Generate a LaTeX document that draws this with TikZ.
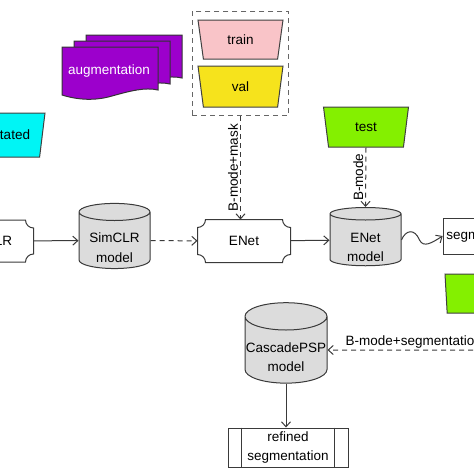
\documentclass[tikz,border=0pt]{standalone}
\usepackage{fontspec}
\setmainfont{Liberation Sans}
\usepackage{tikz}
\usetikzlibrary{calc}
\usetikzlibrary{positioning}
\usetikzlibrary{shapes.geometric}
\usetikzlibrary{fit}
\usetikzlibrary{arrows.meta}
\definecolor{lineg}{HTML}{3A3A3A}
\definecolor{cylfill}{HTML}{DCDCDC}
\definecolor{augpurple}{HTML}{9C00CC}
\definecolor{traincol}{HTML}{F9C4C8}
\definecolor{valcol}{HTML}{F6E31C}
\definecolor{testcol}{HTML}{84F000}
\definecolor{annotcol}{HTML}{00F5F5}
\tikzset{every node/.style={font=\fontsize{13.5}{19.5}\selectfont, text=black}}
\tikzstyle{plaquenode} = [minimum width=92, minimum height=41, align=center]
\tikzstyle{dbnode} = [draw=lineg, fill=cylfill, cylinder, shape border rotate=90, aspect=0.34, inner sep=0]
\tikzstyle{datanode} = [draw=black!75, trapezium, trapezium left angle=72, trapezium right angle=72, shape border rotate=180, trapezium stretches body, minimum height=40, minimum width=85]
\tikzstyle{procnode} = [draw=lineg, rectangle, minimum width=120, minimum height=39, align=center]
\tikzstyle{flow} = [draw=lineg, -{Straight Barb[length=5pt,width=9pt]}]
\tikzstyle{dflow} = [flow, dash pattern=on 5pt off 4pt]
\tikzstyle{augpage} = [draw=black!80, fill=augpurple]
\newcommand{\dbtxt}[2]{\raisebox{-8pt}[\height][\depth]{\begin{tabular}{@{}c@{}}#1\\#2\end{tabular}}}
\newcommand{\plaque}[1]{%
  \draw[lineg] ([xshift=8pt]#1.north west) -- ([xshift=-8pt]#1.north east)
    arc[start angle=180, end angle=270, radius=8pt]
    -- ([yshift=8pt]#1.south east)
    arc[start angle=90, end angle=180, radius=8pt]
    -- ([xshift=8pt]#1.south west)
    arc[start angle=0, end angle=90, radius=8pt]
    -- ([yshift=-8pt]#1.north west)
    arc[start angle=270, end angle=360, radius=8pt] -- cycle;}
\newcommand{\augsheet}[2]{%
  \draw[augpage, shift={(#1,#2)}] (62,-47) -- (158,-47) -- (158,-90)
    .. controls (145,-87) and (130,-91) .. (112,-96)
    .. controls (95,-101) and (78,-100) .. (62,-95) -- cycle;}

\begin{document}
\begin{tikzpicture}[x=1pt, y=1pt, line width=1pt]
    \useasboundingbox (0,0) rectangle (474,-474);
    \clip (0,0) rectangle (474,-474);

    \node[plaquenode, minimum height=42] (fine_enet) at (244,-241) {ENet};
    \plaque{fine_enet}
    \node[plaquenode] (pre_simclr) at ($(fine_enet)+(-257,0)$) {SimCLR};
    \plaque{pre_simclr}
    \node[dbnode, minimum width=71, minimum height=55] (pre_simclr_model) at ($(fine_enet)+(-129.5,0.5)$) {\dbtxt{SimCLR}{model}};
    \node[datanode, fill=annotcol, minimum height=44, minimum width=90] (annot) at ($(fine_enet)+(-244,106)$) {annotated};

    \augsheet{24}{12}
    \augsheet{12}{6}
    \augsheet{0}{0}
    \node[text=white] (aug) at (109,-71) {augmentation};

    \node[datanode, fill=traincol, minimum height=39] (data_train) at ($(fine_enet)+(-3.5,201.5)$) {train};
    \node[datanode, fill=valcol, minimum height=41] (data_val) at ($(data_train)+(0,-47)$) {val};
    \node[draw=black!60, dash pattern=on 5pt off 4pt, fit=(data_train)(data_val), inner sep=8] (data_box) {};

    \node[dbnode, minimum width=71, minimum height=54] (fine_enet_model) at ($(fine_enet)+(121.5,1)$) {\dbtxt{ENet}{model}};
    \node[datanode, fill=testcol] (test_in) at ($(fine_enet_model)+(0.5,113)$) {test};
    \node[draw=lineg, minimum width=86, minimum height=36] (seg_out) at ($(fine_enet_model)+(121.5,4)$) {segmentation};
    \node[datanode, fill=testcol, minimum height=39] (test_in_b) at ($(seg_out)+(0.5,-57.5)$) {};

    \node[dbnode, minimum width=82, minimum height=54] (ref_cascade) at ($(fine_enet_model)+(-79.5,-110)$) {\dbtxt{CascadePSP}{model}};
    \node[procnode] (ref_out) at ($(ref_cascade)+(2,-97.5)$) {refined\\segmentation};
    \draw[lineg] ([xshift=14pt]ref_out.north west) -- ([xshift=14pt]ref_out.south west);
    \draw[lineg] ([xshift=-14pt]ref_out.north east) -- ([xshift=-14pt]ref_out.south east);
    \coordinate (seg_src) at ($(ref_cascade)+(214,0)$);

    \draw[flow] (pre_simclr) -- (pre_simclr_model);
    \draw[dflow] (pre_simclr_model) -- (fine_enet);
    \draw[flow] (fine_enet) -- (fine_enet_model);
    \draw[dflow] (data_box.south) -- node[midway, rotate=90, above, inner sep=2pt] {B-mode+mask} (data_box.south |- fine_enet.north);
    \draw[dflow] (test_in.south) -- node[midway, rotate=90, above, inner sep=2pt] {B-mode} (fine_enet_model.north);
    \draw[flow] (fine_enet_model.east) .. controls +(4,10) and +(-5,12) .. ($(fine_enet_model.east)+(18,0)$)
        .. controls +(4,-8) and +(-11,-7) .. (seg_out.west);
    \draw[dflow] (seg_src) -- node[midway, above, inner sep=1pt] {B-mode+segmentation} (ref_cascade.east);
    \draw[flow] (ref_cascade.south) -- (ref_cascade.south |- ref_out.north);
\end{tikzpicture}
\end{document}
